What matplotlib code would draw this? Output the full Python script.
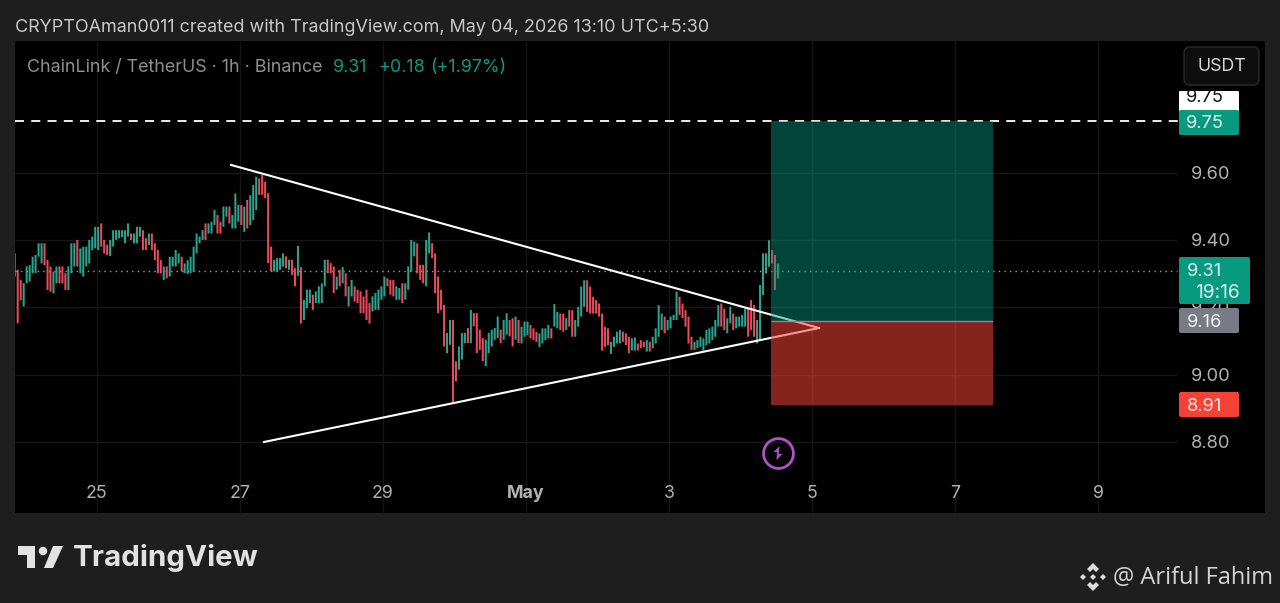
import matplotlib
matplotlib.use('Agg')
import matplotlib.pyplot as plt
import matplotlib.dates as mdates
from matplotlib.patches import FancyBboxPatch, Polygon, Circle, Rectangle
from matplotlib.transforms import IdentityTransform
import pandas as pd

# hourly bars, first one at 20:30 on Apr 23
first_bar = '2026-04-23 20:30'

highs = [
    9.361, 9.312, 9.282, 9.272, 9.322, 9.326, 9.351, 9.356, 9.391, 9.391,
    9.391, 9.341, 9.322, 9.307, 9.322, 9.322, 9.322, 9.302, 9.322, 9.391,
    9.391, 9.401, 9.376, 9.381, 9.381, 9.401, 9.411, 9.440, 9.440, 9.450,
    9.401, 9.386, 9.401, 9.430, 9.430, 9.430, 9.430, 9.430, 9.450, 9.420,
    9.420, 9.440, 9.440, 9.430, 9.406, 9.420, 9.420, 9.391, 9.371, 9.341,
    9.322, 9.322, 9.351, 9.351, 9.371, 9.361, 9.351, 9.331, 9.341, 9.351,
    9.381, 9.420, 9.411, 9.430, 9.450, 9.450, 9.455, 9.490, 9.475, 9.455,
    9.500, 9.500, 9.500, 9.475, 9.539, 9.505, 9.505, 9.500, 9.520, 9.534,
    9.564, 9.589, 9.584, 9.594, 9.574, 9.540, 9.381, 9.342, 9.347, 9.347, 9.361,
    9.352, 9.342, 9.342, 9.317, 9.383, 9.320, 9.223, 9.253, 9.253, 9.238,
    9.248, 9.263, 9.272, 9.342, 9.342, 9.332, 9.322, 9.292, 9.312, 9.320,
    9.302, 9.263, 9.282, 9.263, 9.253, 9.248, 9.233, 9.253, 9.213, 9.233,
    9.243, 9.253, 9.263, 9.292, 9.287, 9.282, 9.282, 9.263, 9.258, 9.272,
    9.272, 9.322, 9.401, 9.396, 9.391, 9.327, 9.327, 9.401, 9.423, 9.391,
    9.361, 9.292, 9.253, 9.208, 9.124, 9.163, 9.163, 9.040, 9.084, 9.124,
    9.124, 9.139, 9.193, 9.183, 9.183, 9.134, 9.109, 9.104, 9.124, 9.134,
    9.139, 9.173, 9.134, 9.163, 9.183, 9.163, 9.168, 9.173, 9.163, 9.143,
    9.158, 9.158, 9.148, 9.138, 9.128, 9.123, 9.138, 9.138, 9.148, 9.138, 9.210,
    9.187, 9.182, 9.182, 9.168, 9.192, 9.192, 9.163, 9.202, 9.262, 9.281,
    9.281, 9.262, 9.232, 9.222, 9.212, 9.182, 9.143, 9.138, 9.098, 9.113,
    9.128, 9.133, 9.128, 9.123, 9.113, 9.108, 9.111, 9.093, 9.103, 9.098,
    9.103, 9.098, 9.113, 9.138, 9.207, 9.182, 9.173, 9.163, 9.173, 9.178,
    9.247, 9.232, 9.212, 9.192, 9.173, 9.113, 9.098, 9.103, 9.113, 9.108,
    9.133, 9.138, 9.143, 9.163, 9.207, 9.212, 9.197, 9.168, 9.202, 9.182,
    9.173, 9.173, 9.178, 9.197, 9.197, 9.222, 9.207, 9.163, 9.267, 9.361,
    9.361, 9.400, 9.371, 9.356, 9.331,
]
lows = [
    9.292, 9.153, 9.222, 9.203, 9.272, 9.277, 9.302, 9.302, 9.351, 9.331,
    9.326, 9.252, 9.247, 9.242, 9.272, 9.272, 9.272, 9.252, 9.252, 9.302,
    9.322, 9.322, 9.302, 9.292, 9.322, 9.331, 9.371, 9.376, 9.371, 9.381,
    9.361, 9.356, 9.353, 9.381, 9.401, 9.406, 9.409, 9.391, 9.411, 9.401,
    9.391, 9.391, 9.411, 9.371, 9.371, 9.386, 9.371, 9.341, 9.302, 9.302,
    9.282, 9.287, 9.292, 9.322, 9.322, 9.331, 9.307, 9.302, 9.300, 9.302,
    9.307, 9.361, 9.391, 9.401, 9.401, 9.420, 9.420, 9.445, 9.420, 9.420,
    9.440, 9.470, 9.450, 9.435, 9.435, 9.455, 9.445, 9.425, 9.435, 9.445,
    9.460, 9.490, 9.535, 9.535, 9.525, 9.332, 9.307, 9.307, 9.307, 9.312, 9.322,
    9.317, 9.312, 9.297, 9.263, 9.294, 9.152, 9.163, 9.198, 9.213, 9.193,
    9.213, 9.213, 9.213, 9.263, 9.302, 9.302, 9.243, 9.253, 9.263, 9.272,
    9.233, 9.203, 9.233, 9.218, 9.213, 9.183, 9.183, 9.163, 9.152, 9.188,
    9.193, 9.193, 9.223, 9.233, 9.263, 9.238, 9.233, 9.223, 9.223, 9.213,
    9.223, 9.253, 9.307, 9.352, 9.302, 9.282, 9.272, 9.263, 9.361, 9.347,
    9.243, 9.183, 9.193, 9.084, 9.064, 9.089, 8.918, 8.980, 9.015, 9.045,
    9.094, 9.094, 9.094, 9.144, 9.064, 9.074, 9.040, 9.025, 9.064, 9.084,
    9.104, 9.109, 9.094, 9.104, 9.119, 9.114, 9.084, 9.104, 9.094, 9.093,
    9.113, 9.118, 9.108, 9.103, 9.098, 9.082, 9.093, 9.103, 9.108, 9.108, 9.143,
    9.138, 9.133, 9.128, 9.133, 9.143, 9.113, 9.113, 9.143, 9.173, 9.202,
    9.187, 9.182, 9.182, 9.182, 9.173, 9.072, 9.083, 9.088, 9.062, 9.083,
    9.093, 9.093, 9.098, 9.088, 9.064, 9.072, 9.072, 9.072, 9.079, 9.082,
    9.069, 9.069, 9.079, 9.093, 9.113, 9.133, 9.123, 9.133, 9.138, 9.163,
    9.163, 9.178, 9.168, 9.143, 9.093, 9.074, 9.074, 9.079, 9.083, 9.072,
    9.088, 9.093, 9.103, 9.113, 9.143, 9.143, 9.133, 9.123, 9.153, 9.133,
    9.138, 9.143, 9.143, 9.143, 9.113, 9.133, 9.113, 9.093, 9.103, 9.237,
    9.301, 9.321, 9.331, 9.252, 9.286,
]
# G closed up, R closed down
bar_dirs = (
    'RRRGGGGGGG' 'RRRGGRRRGG' 'GRGGGGGGGR' 'RRGGGGGGGR' 'GGGRRGRRRR'
    'GRGGGGRGGG' 'GGGGRGGGRR' 'GGRGGGRGRG' 'GGRRRRRGGGG' 'RGRRGRGGGR'
    'GGGGRRRGRG' 'RGGRRRRRRG' 'GGGGRRRGGR' 'GGGGRRRGGR' 'RRRRGGRRGG'
    'GRGRRRRGGG' 'GGRGGRRGRG' 'GGRRRGGGGRG' 'GRRGRRGGGG' 'RRRRRRRRGG'
    'GGRRRGGRRR' 'GRGGGGRGGG' 'GRRRRRGGGG' 'GGGGGRRGGR' 'GGGGRRRGGG'
    'GGRRG'
)

price_ticks = [9.60, 9.40, 9.20, 9.00, 8.80]
day_ticks = ['2026-04-25', '2026-04-27', '2026-04-29', '2026-05-01',
             '2026-05-03', '2026-05-05', '2026-05-07', '2026-05-09']
day_labels = ['25', '27', '29', 'May', '3', '5', '7', '9']

last_price = 9.31
target_price = 9.755
entry_price = 9.16
stop_price = 8.91
position_start = '2026-05-04 10:10'
position_end = '2026-05-07 12:40'

upper_line_t = ['2026-04-26 21:03', '2026-05-05 02:17']
upper_line_p = [9.624, 9.139]
lower_line_t = ['2026-04-27 08:07', '2026-05-05 02:17']
lower_line_p = [8.800, 9.139]

FIG_BG = '#1e1e1e'
GREEN = '#089981'
RED = '#f44336'
W, H = 1280, 603


def num(t):
    return mdates.date2num(pd.Timestamp(t))


def fig_text(fig, x, y, s, **kw):
    # x, y in image pixels from the top left
    kw.setdefault('va', 'center')
    kw.setdefault('zorder', 20)
    return fig.text(x / W, 1 - (y + 1.5) / H, s, **kw)


def fig_box(fig, x, y, w, h, color, radius=2, **kw):
    box = FancyBboxPatch((x, H - y - h), w, h,
                         boxstyle='round,pad=0,rounding_size=%s' % radius,
                         facecolor=color, edgecolor=kw.pop('edgecolor', 'none'),
                         linewidth=kw.pop('linewidth', 0),
                         transform=IdentityTransform(), **kw)
    fig.add_artist(box)


def fig_poly(fig, pts, color):
    fig.add_artist(Polygon([(x, H - y) for x, y in pts], closed=True, facecolor=color,
                           edgecolor='none', transform=IdentityTransform()))


def main():
    plt.rcParams['font.family'] = ['Inter', 'DejaVu Sans']
    fig = plt.figure(figsize=(W / 100, H / 100), dpi=100, facecolor=FIG_BG)
    ax = fig.add_axes([15 / W, 1 - 513 / H, 1250 / W, 472 / H], facecolor='black')
    may1 = num('2026-05-01')
    ax.set_xlim(may1 - 7.142, may1 + 10.328)
    ax.set_ylim(8.5888, 9.9926)
    for s in ax.spines.values():
        s.set_visible(False)
    ax.set_xticks([])
    ax.set_yticks([])

    axis_end = num('2026-05-01') + (1177 - 526) / 71.55

    # grid
    ax.vlines([num(d) for d in day_ticks], 8.5888, 9.9926, color='#161616', lw=1, zorder=1)
    ax.hlines(price_ticks, may1 - 7.142, axis_end, color='#161616', lw=1, zorder=1)

    # candles
    times = pd.date_range(first_bar, periods=len(highs), freq='h')
    xs = mdates.date2num(times)
    colors = ['#2aa48e' if d == 'G' else '#ea4a5c' for d in bar_dirs]
    bars = ax.vlines(xs, lows, highs, colors=colors, lw=1.45, zorder=3)
    bars.set_snap(False)

    # last price and target lines
    ax.hlines(last_price, may1 - 7.142, axis_end, color='#7fae9f', lw=1,
              linestyles=(0, (1, 3)), zorder=2)
    ax.hlines(target_price, may1 - 7.142, axis_end + 0.03, color='white', lw=1.3,
              linestyles=(0, (5, 4)), zorder=5)

    # triangle
    ax.plot([num(t) for t in upper_line_t], upper_line_p, color='white', lw=1.5, zorder=4)
    ax.plot([num(t) for t in lower_line_t], lower_line_p, color='white', lw=1.5, zorder=4)

    # long position
    x0, x1 = num(position_start), num(position_end)
    ax.add_patch(Rectangle((x0, entry_price), x1 - x0, target_price - entry_price,
                           facecolor=GREEN, alpha=0.45, edgecolor='none', zorder=6))
    ax.add_patch(Rectangle((x0, stop_price), x1 - x0, entry_price - stop_price,
                           facecolor=RED, alpha=0.55, edgecolor='none', zorder=6))
    ax.hlines(entry_price, x0, x1, color='#8a8a8a', lw=1, zorder=7)

    # lightning marker
    bolt_x, bolt_p = num('2026-05-04 12:30'), 8.767
    ax.plot([bolt_x], [bolt_p], marker='o', ms=21.5, mfc='none', mec='#b052cc', mew=2, zorder=7)
    bx, by = ax.transData.transform((bolt_x, bolt_p))
    bolt = [(1.5, 7), (-4.5, 1), (-0.8, 1), (-1.5, -7), (4.5, -1), (0.8, -1)]
    ax.add_patch(Polygon([(bx + a, by + b) for a, b in bolt], closed=True, facecolor='#b052cc',
                         edgecolor='none', transform=IdentityTransform(), zorder=7))

    def y_of(p):
        return H - ax.transData.transform((0, p))[1]

    # price scale, 9.20 sits behind the boxes
    for p in price_ticks:
        fig_text(fig, 1211, y_of(p), '%.2f' % p, color='#b2b2b2', fontsize=13.2, ha='center', zorder=2)

    fig_box(fig, 1179, 91, 60, 24, 'white', radius=1, zorder=3)
    fig_text(fig, 1205, 96.5, '9.75', color='#111111', fontsize=13.2, ha='center', zorder=4)
    fig_box(fig, 1179, 110, 60, 25, GREEN, zorder=5)
    fig_text(fig, 1205, 122.5, '9.75', color='#e4f5f0', fontsize=13.2, ha='center')
    fig_box(fig, 1179, 257, 71, 47, GREEN, zorder=5)
    fig_text(fig, 1205, 270, '9.31', color='#d6f3ec', fontsize=13.2, ha='center')
    fig_text(fig, 1217, 291, '19:16', color='#d6f3ec', fontsize=13.8, ha='center')
    fig_box(fig, 1179, 308, 60, 25, '#787b86', zorder=5)
    fig_text(fig, 1205, y_of(entry_price), '9.16', color='#f2f2f2', fontsize=13.2, ha='center')
    fig_box(fig, 1179, 392, 60, 25, RED, zorder=5)
    fig_text(fig, 1205, y_of(stop_price), '8.91', color='#ffe3df', fontsize=13.2, ha='center')

    # time scale
    for d, lab in zip(day_ticks, day_labels):
        x = 526 + (num(d) - may1) * 71.55
        fig_text(fig, x, 492.5, lab, color='#b2b2b2', fontsize=12.8, ha='center',
                 fontweight='bold' if lab == 'May' else 'normal')

    # header and legend
    fig_text(fig, 15, 26, 'CRYPTOAman0011 created with TradingView.com, May 04, 2026 13:10 UTC+5:30',
             color='#c8c8c8', fontsize=12.95)
    fig_text(fig, 27, 66.5, 'ChainLink / TetherUS \u00b7 1h \u00b7 Binance', color='#8f8f8f', fontsize=12.85)
    fig_text(fig, 333, 66.5, '9.31', color=GREEN, fontsize=12.9)
    fig_text(fig, 378, 66.5, '+0.18', color=GREEN, fontsize=12.9)
    fig_text(fig, 430, 66.5, '(+1.97%)', color=GREEN, fontsize=12.9)

    fig_box(fig, 1184, 47, 75, 38, '#0e0e0e', radius=6, edgecolor='#2a2a2a', linewidth=1)
    fig_text(fig, 1222, 65, 'USDT', color='#d8d8d8', fontsize=12.8, ha='center')

    # TradingView logo
    logo = '#e2e2e2'
    fig_poly(fig, [(18, 546), (35, 546), (35, 568), (27, 568), (27, 555), (18, 555)], logo)
    fig.add_artist(Circle((43, H - 551), 4.2, facecolor=logo, edgecolor='none',
                          transform=IdentityTransform()))
    fig_poly(fig, [(53, 546), (63, 546), (53, 568), (44, 568)], logo)
    fig_text(fig, 73, 557, 'TradingView', color=logo, fontsize=21.3, fontweight='bold',
             family='Inter')

    # watermark
    mark = '#dcdcdc'
    fig_poly(fig, [(1093, 563), (1099, 569), (1096, 572), (1093, 569), (1090, 572), (1087, 569)], mark)
    fig_poly(fig, [(1093, 591), (1099, 585), (1096, 582), (1093, 585), (1090, 582), (1087, 585)], mark)
    fig_poly(fig, [(1093, 574), (1096, 577), (1093, 580), (1090, 577)], mark)
    fig_poly(fig, [(1083, 574), (1086, 577), (1083, 580), (1080, 577)], mark)
    fig_poly(fig, [(1103, 574), (1106, 577), (1103, 580), (1100, 577)], mark)
    fig_text(fig, 1113, 576, '@ Ariful Fahim', color='#d4d4d4', fontsize=17, family='Open Sans')

    fig.savefig('out.png', dpi=100, facecolor=FIG_BG)


if __name__ == '__main__':
    main()
